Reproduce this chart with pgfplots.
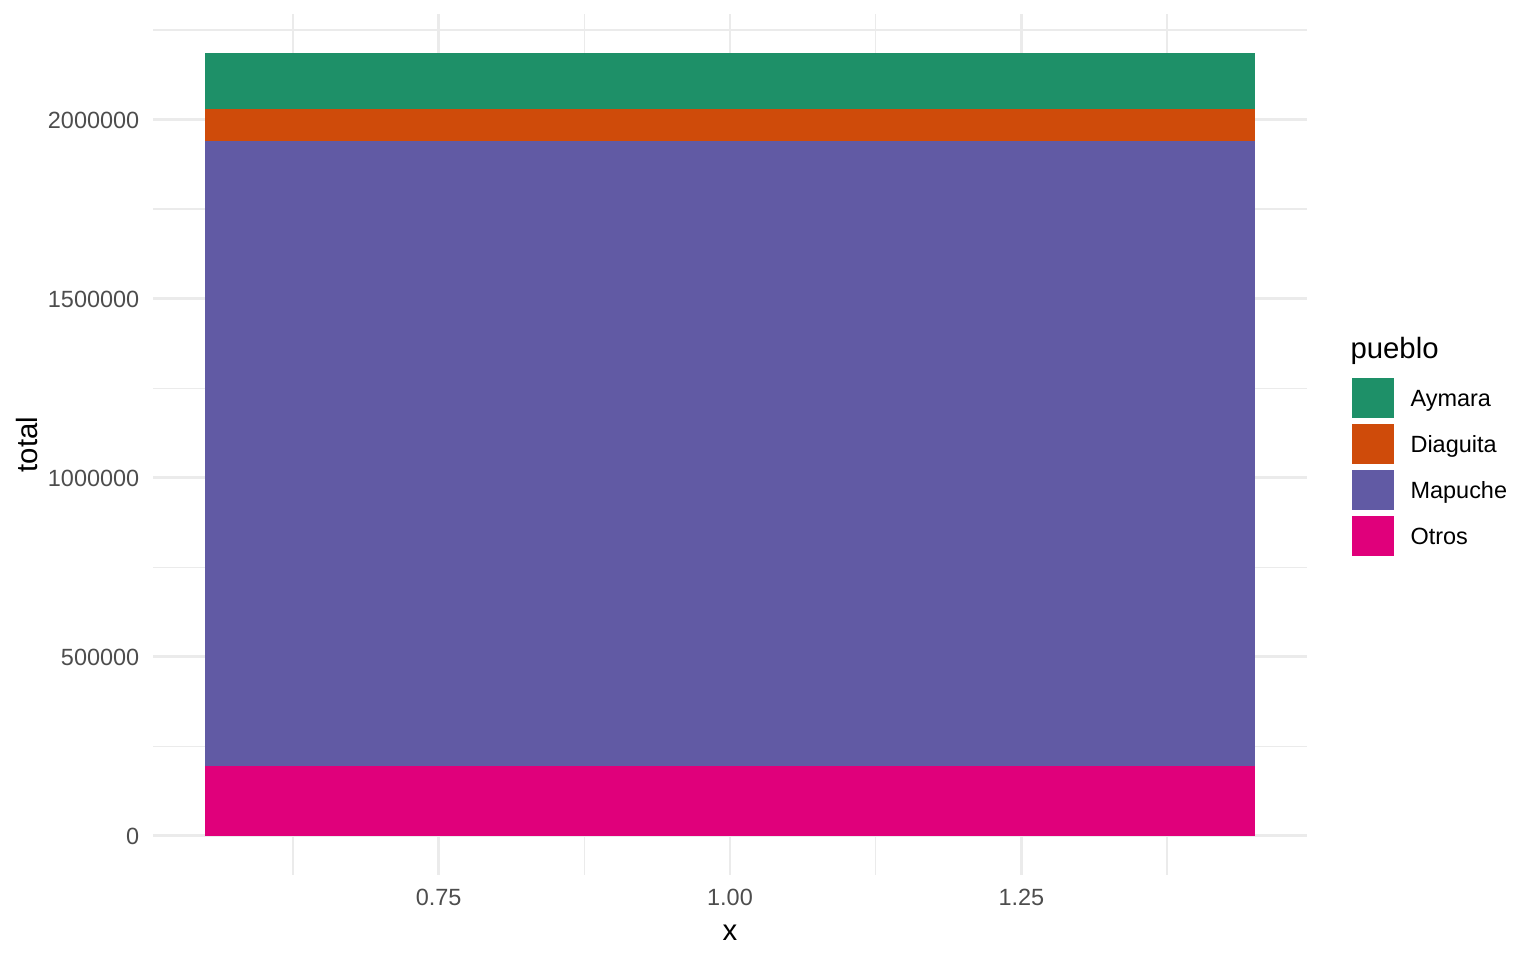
\documentclass[border=0pt]{standalone}
\usepackage{pgfplots}
\pgfplotsset{compat=1.18}
\usepackage{fontspec}
\setmainfont{Liberation Sans}
\definecolor{cAymara}{HTML}{1E9068}
\definecolor{cDiaguita}{HTML}{CF4B0A}
\definecolor{cMapuche}{HTML}{615AA4}
\definecolor{cOtros}{HTML}{E0007B}
\definecolor{gridc}{HTML}{EBEBEB}
\definecolor{tickc}{HTML}{4D4D4D}
\begin{document}
\begin{tikzpicture}
\useasboundingbox (0,0) rectangle (576pt,360pt);
\begin{axis}[
  at={(57.375pt,31.875pt)}, anchor=south west,
  scale only axis, width=432.75pt, height=322.875pt,
  xmin=0.505, xmax=1.495, ymin=-109290, ymax=2295082,
  ybar stacked, bar width=0.9, bar shift=0pt,
  axis line style={draw=none},
  tick style={draw=none},
  major tick length=0pt, minor tick length=0pt,
  xtick={0.75,1,1.25},
  minor xtick={0.625,0.875,1.125,1.375},
  ytick={0,500000,1000000,1500000,2000000},
  minor ytick={250000,750000,1250000,1750000,2250000},
  grid=both,
  major grid style={gridc, line width=1.07pt},
  minor grid style={gridc, line width=0.53pt},
  scaled y ticks=false, scaled x ticks=false,
  /pgf/number format/assume math mode=true,
  yticklabel style={/pgf/number format/fixed, /pgf/number format/set thousands separator={}, font=\fontsize{8.8}{10}\selectfont, color=tickc, inner sep=0pt, anchor=east, xshift=-4.95pt, yshift=-0.3pt},
  xticklabel style={/pgf/number format/fixed, /pgf/number format/fixed zerofill, /pgf/number format/precision=2, font=\fontsize{8.8}{10}\selectfont, color=tickc, inner sep=0pt, anchor=north, yshift=-5.2pt},
  reverse legend,
  legend cell align=left,
  legend style={at={(axis description cs:1.0381,0.5785)}, anchor=north west, draw=none, fill=none, inner sep=0pt, row sep=0pt, column sep=0pt, font=\fontsize{8.8}{10}\selectfont, nodes={inner sep=0pt, anchor=west}},
  legend image code/.code={\path[fill=none, draw=none] (0pt,-8.625pt) rectangle (22.15pt,8.625pt); \fill[#1, draw=none] (0pt,-6.6pt) rectangle (15.75pt,8.4pt);},
]
\addplot[fill=cOtros, draw=none] coordinates {(1,195417)};
\addlegendentry{Otros}
\addplot[fill=cMapuche, draw=none] coordinates {(1,1745147)};
\addlegendentry{Mapuche}
\addplot[fill=cDiaguita, draw=none] coordinates {(1,88474)};
\addlegendentry{Diaguita}
\addplot[fill=cAymara, draw=none] coordinates {(1,156754)};
\addlegendentry{Aymara}
\end{axis}
\node[anchor=base west, inner sep=0pt, font=\fontsize{11}{13}\selectfont] at (506.25pt,225.75pt) {pueblo};
\node[anchor=center, inner sep=0pt, font=\fontsize{11}{13}\selectfont] at (273.75pt,10.2pt) {x};
\node[anchor=center, inner sep=0pt, rotate=90, font=\fontsize{11}{13}\selectfont] at (10.1pt,193.3pt) {total};
\end{tikzpicture}
\end{document}
